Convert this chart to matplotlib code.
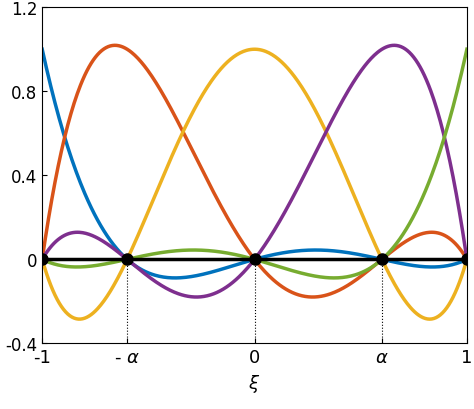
import numpy as np
import matplotlib.pyplot as plt

alpha = 0.6
nodes = [-1, -alpha, 0, alpha, 1]
colors = ['#0072BD', '#D95319', '#EDB120', '#7E2F8E', '#77AC30']
xtick_labels = ['-1', r'- $\alpha$', '0', r'$\alpha$', '1']
ytick_vals = [-0.4, 0, 0.4, 0.8, 1.2]
ytick_labels = ['-0.4', '0', '0.4', '0.8', '1.2']

x = np.linspace(-1, 1, 400)

def lagrange(i, x):
    out = np.ones_like(x)
    for j, xj in enumerate(nodes):
        if j != i:
            out *= (x - xj) / (nodes[i] - xj)
    return out

fig = plt.figure(figsize=(4.74, 4.10), dpi=100)
ax = fig.add_axes([0.089, 0.16, 0.896, 0.82])
for i, c in enumerate(colors):
    ax.plot(x, lagrange(i, x), color=c, lw=2.5)
ax.plot([-1, 1], [0, 0], color='black', lw=2.5)
for xn in nodes[1:-1]:
    ax.plot([xn, xn], [-0.4, 0], 'k:', lw=0.8)
ax.plot(nodes, np.zeros(len(nodes)), 'o', color='black', ms=8, zorder=5)
ax.set_xlim(-1, 1)
ax.set_ylim(-0.4, 1.2)
ax.set_xticks(nodes)
ax.set_xticklabels(xtick_labels, fontsize=13)
ax.set_yticks(ytick_vals)
ax.set_yticklabels(ytick_labels, fontsize=12)
ax.set_xlabel(r'$\xi$', fontsize=13)
ax.tick_params(direction='in')
fig.savefig('out.png')
